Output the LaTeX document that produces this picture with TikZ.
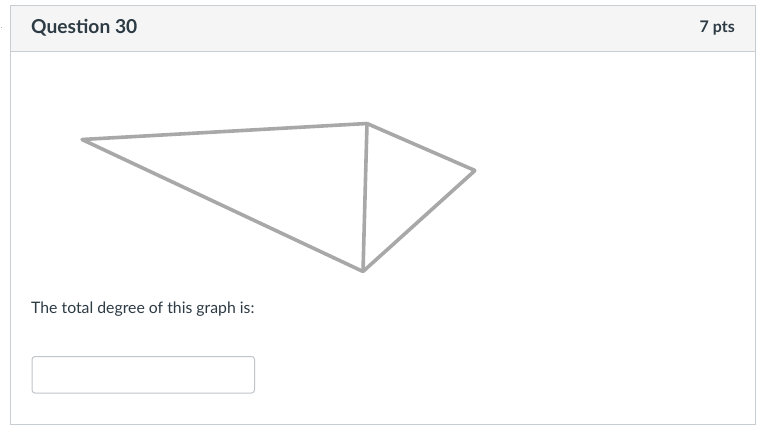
\documentclass[tikz,border=0pt]{standalone}
\usepackage{fontspec}
\setmainfont{Lato}
\definecolor{txt}{HTML}{2D3B45}
\definecolor{hdr}{HTML}{F5F5F5}
\definecolor{brd}{HTML}{C7CDD1}
\definecolor{edgegray}{HTML}{A8A8A8}
\begin{document}
\begin{tikzpicture}[x=1pt,y=-1pt,
  vtx/.style={inner sep=0pt,minimum size=0pt},
  gedge/.style={draw=edgegray,line width=3.6pt,line cap=round,line join=round},
  lbl/.style={inner sep=0pt,text=txt}]
\useasboundingbox[fill=white] (0,0) rectangle (769,437);
% stray mark
\fill[gray!60] (0.5,26.5) rectangle (2,28);
% header
\path[fill=hdr,draw=brd,line width=1pt] (10.5,5.5) rectangle (755.5,51.5);
\draw[brd,line width=1pt] (10.5,51.5) -- (10.5,424.5) -- (755.5,424.5) -- (755.5,51.5);
\node[lbl,anchor=west,font=\bfseries\fontsize{19.2}{21}\selectfont] (q) at (31,27.5) {Question 30};
\node[lbl,anchor=east,font=\bfseries\fontsize{16}{18}\selectfont] (pts) at (735,28.5) {7 pts};
% graph
\node[vtx] (a) at (82,139.5) {};
\node[vtx] (b) at (367,123.5) {};
\node[vtx] (c) at (475,170.5) {};
\node[vtx] (d) at (363,271.5) {};
\draw[gedge] (a) -- (b);
\draw[gedge] (a) -- (d);
\draw[gedge] (b) -- (d);
\draw[gedge] (b) -- (c);
\draw[gedge] (c) -- (d);
% question text
\node[lbl,anchor=base west,font=\fontsize{15.8}{18}\selectfont] (t) at (31,313) {The total degree of this graph is:};
% input box
\draw[draw=brd!90!gray,line width=1pt,rounded corners=3pt] (32,356.5) rectangle (254.5,393) node[pos=0.5] (box) {};
\end{tikzpicture}
\end{document}
